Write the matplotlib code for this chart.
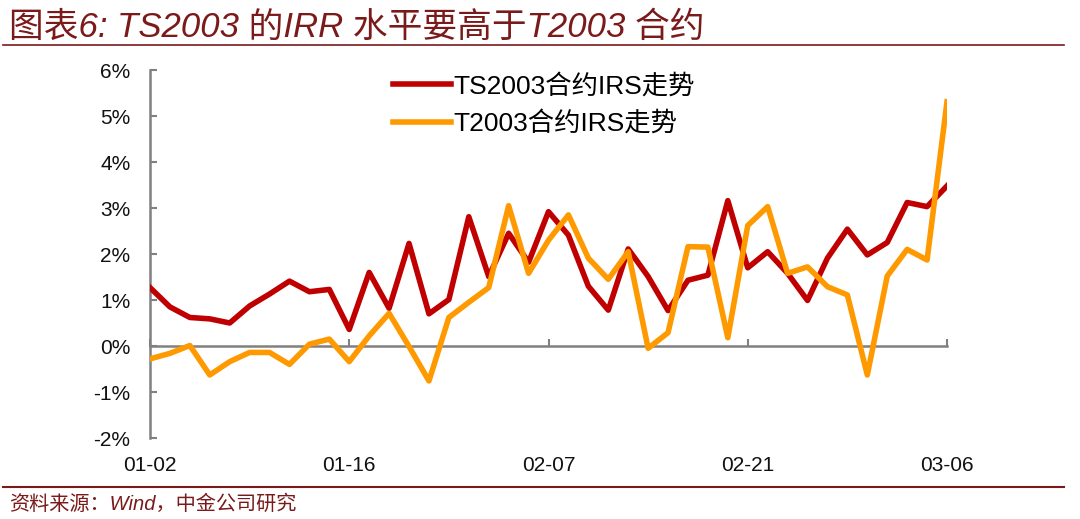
import matplotlib
matplotlib.use("Agg")
import matplotlib.pyplot as plt
from matplotlib.lines import Line2D

plt.rcParams['font.family'] = ['Liberation Sans', 'Noto Sans CJK SC', 'DejaVu Sans']

dates = ["01-02", "01-03", "01-06", "01-07", "01-08", "01-09", "01-10", "01-13", "01-14", "01-15",
         "01-16", "01-17", "01-20", "01-21", "01-22", "01-23", "02-03", "02-04", "02-05", "02-06",
         "02-07", "02-10", "02-11", "02-12", "02-13", "02-14", "02-17", "02-18", "02-19", "02-20",
         "02-21", "02-24", "02-25", "02-26", "02-27", "02-28", "03-02", "03-03", "03-04", "03-05",
         "03-06"]

ts2003 = [1.27, 0.85, 0.62, 0.59, 0.50, 0.87, 1.13, 1.41, 1.18, 1.23,
          0.36, 1.60, 0.82, 2.23, 0.70, 1.01, 2.81, 1.51, 2.45, 1.82,
          2.92, 2.41, 1.30, 0.78, 2.11, 1.51, 0.77, 1.43, 1.54, 3.16,
          1.70, 2.05, 1.58, 0.99, 1.91, 2.54, 1.98, 2.25, 3.12, 3.03,
          3.48]

t2003 = [-0.28, -0.16, 0.01, -0.63, -0.34, -0.14, -0.14, -0.40, 0.04, 0.15,
         -0.34, 0.22, 0.71, -0.01, -0.76, 0.62, 0.95, 1.27, 3.05, 1.58,
         2.30, 2.85, 1.91, 1.45, 2.05, -0.05, 0.29, 2.16, 2.15, 0.18,
         2.62, 3.03, 1.58, 1.72, 1.29, 1.11, -0.63, 1.52, 2.10, 1.87,
         5.31]

tick_dates = ["01-02", "01-16", "02-07", "02-21", "03-06"]
yticks = [-2, -1, 0, 1, 2, 3, 4, 5, 6]

RED = '#C00000'
ORANGE = '#FF9900'
GRAY = '#808080'
DARK = '#7A1A1A'

fig = plt.figure(figsize=(10.8, 5.19), dpi=100)
ax = fig.add_axes([150 / 1080, 1 - 438 / 519, 797 / 1080, 368 / 519])

x = list(range(len(dates)))
ax.plot(x, ts2003, color=RED, lw=4, label="TS2003合约IRS走势")
ax.plot(x, t2003, color=ORANGE, lw=4, label="T2003合约IRS走势")

ax.set_xlim(0, len(dates) - 1)
ax.set_ylim(-2, 6)
ax.set_yticks(yticks)
ax.set_yticklabels([f"{v}%" for v in yticks])
ax.set_xticks([dates.index(d) for d in tick_dates])
ax.set_xticklabels(tick_dates)

for s in ['top', 'right']:
    ax.spines[s].set_visible(False)
ax.spines['bottom'].set_position(('data', 0))
for s in ['left', 'bottom']:
    ax.spines[s].set_color(GRAY)
    ax.spines[s].set_linewidth(1.8)
    ax.spines[s].set_zorder(1)

ax.tick_params(axis='y', direction='in', length=5, width=1.5, color=GRAY,
               labelsize=15, pad=14, labelcolor='#111111')
ax.tick_params(axis='x', direction='in', length=5, width=1.5, color=GRAY,
               labelsize=15, pad=79, labelcolor='#111111')

leg = ax.legend(loc='upper left', bbox_to_anchor=(0.305, 0.99), frameon=False,
                fontsize=19, handlelength=2.2, handletextpad=0.1, labelspacing=0.47,
                borderaxespad=0, borderpad=0)

# title and source lines
fig.text(0.008, 1 - 27 / 519, "图表6: TS2003 的IRR 水平要高于T2003 合约", fontsize=25,
         style='italic', color=DARK, va='center', ha='left')
fig.add_artist(Line2D([0.003, 0.985], [1 - 45 / 519] * 2, color=DARK, lw=1.2,
                      transform=fig.transFigure))
fig.add_artist(Line2D([0.003, 0.985], [1 - 487 / 519] * 2, color=DARK, lw=1.5,
                      transform=fig.transFigure))
fig.text(0.008, 1 - 504 / 519, "资料来源：Wind，中金公司研究", fontsize=14.5,
         style='italic', color=DARK, va='center', ha='left')

fig.savefig("out.png", dpi=100)
